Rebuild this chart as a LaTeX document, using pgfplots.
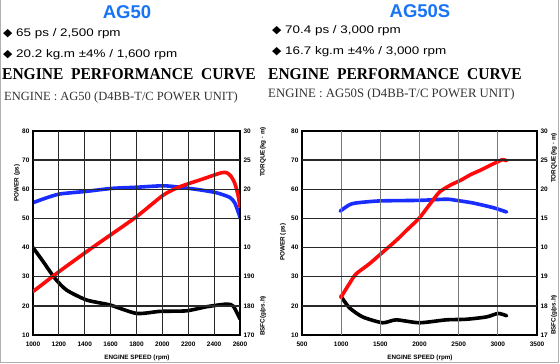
\documentclass[border=0pt]{standalone}
\usepackage{fontspec}
\setmainfont{Liberation Sans}
\newfontfamily\seriffont{Liberation Serif}
\newfontfamily\titlefont[FakeStretch=0.94]{Liberation Serif}
\newfontfamily\widefont[FakeStretch=1.22]{Liberation Sans}
\newfontfamily\symfont[FakeStretch=1.1]{DejaVu Sans}
\usepackage{pgfplots}
\pgfplotsset{compat=1.18}
\definecolor{agblue}{RGB}{25,115,245}
\definecolor{cred}{RGB}{255,10,10}
\definecolor{cblue}{RGB}{25,45,255}
\definecolor{bordergray}{RGB}{175,175,175}
\definecolor{gridk}{RGB}{40,40,40}
\definecolor{gridg}{RGB}{120,120,120}
\pgfplotsset{
  panel/.style={scale only axis, anchor=south west, height=204pt,
    major tick length=0.1pt,
    /pgf/number format/assume math mode=true,
    ticklabel style={font=\fontsize{6.5}{7}\selectfont\bfseries},
    axis line style={line width=1.6pt}},
  curve/.style={line width=3.6pt, line join=round, line cap=round, smooth, tension=0.4, mark=none},
}
\tikzset{lbl/.style={font=\fontsize{6.3}{7}\selectfont\bfseries, inner sep=0pt}}
\begin{document}
\begin{tikzpicture}
\useasboundingbox (0pt,0pt) rectangle (560pt,364pt);
\fill[white] (0pt,0pt) rectangle (560pt,364pt);
\draw[bordergray, line width=1pt] (0.5pt,364pt) -- (0.5pt,1pt) -- (558.5pt,1pt) -- (558.5pt,364pt);

% ---------- headers ----------
\node[anchor=base, inner sep=0pt, text=agblue, font=\fontsize{18.5}{20}\selectfont\bfseries] at (127pt,345.5pt) {AG50};
\node[anchor=base west, inner sep=0pt, font=\widefont\fontsize{11}{13}\selectfont] at (3pt,327pt) {{\symfont ◆} 65 ps / 2,500 rpm};
\node[anchor=base west, inner sep=0pt, font=\widefont\fontsize{11}{13}\selectfont] at (3pt,306pt) {{\symfont ◆} 20.2 kg.m ±4\% / 1,600 rpm};
\node[anchor=base west, inner sep=0pt, font=\titlefont\bfseries\fontsize{16.5}{18}\selectfont] at (2pt,284pt) {ENGINE\ \ PERFORMANCE\ \ CURVE};
\node[anchor=base west, inner sep=0pt, text=black!80, font=\seriffont\fontsize{12.5}{14}\selectfont] at (4pt,263pt) {ENGINE : AG50 (D4BB-T/C POWER UNIT)};

\node[anchor=base, inner sep=0pt, text=agblue, font=\fontsize{18.5}{20}\selectfont\bfseries] at (420pt,346pt) {AG50S};
\node[anchor=base west, inner sep=0pt, font=\widefont\fontsize{11}{13}\selectfont] at (272pt,330.5pt) {{\symfont ◆} 70.4 ps / 3,000 rpm};
\node[anchor=base west, inner sep=0pt, font=\widefont\fontsize{11}{13}\selectfont] at (272pt,309pt) {{\symfont ◆} 16.7 kg.m ±4\% / 3,000 rpm};
\node[anchor=base west, inner sep=0pt, font=\titlefont\bfseries\fontsize{16.5}{18}\selectfont] at (268pt,284pt) {ENGINE\ \ PERFORMANCE\ \ CURVE};
\node[anchor=base west, inner sep=0pt, text=black!80, font=\seriffont\fontsize{12.8}{14}\selectfont] at (268pt,266pt) {ENGINE : AG50S (D4BB-T/C POWER UNIT)};

% ---------- LEFT PANEL: AG50 ----------
\begin{axis}[panel, at={(33pt,29pt)}, width=207pt,
  xmin=1000, xmax=2600, ymin=-5, ymax=30,
  axis x line=none, axis y line*=right,
  ytick={-5,0,5,10,15,20,25,30},
  yticklabels={170,180,190,10,15,20,25,30}]
% torque (kg.m)
\addplot[curve, cblue] coordinates {(1000,17.7)(1100,18.5)(1209,19.2)(1415,19.65)(1608,20.15)(1800,20.35)(2005,20.6)(2136,20.35)(2290,19.9)(2419,19.4)(2522,18.6)(2561,17.6)(2600,15.2)};
\end{axis}
\begin{axis}[panel, at={(33pt,29pt)}, width=207pt,
  xmin=1000, xmax=2600, ymin=170, ymax=240, hide axis]
% BSFC (g/ps.h)
\addplot[curve, black] coordinates {(1000,200)(1080,195.1)(1170,189.4)(1260,185.4)(1415,182.0)(1595,180.3)(1801,177.4)(1981,178.1)(2187,178.3)(2342,179.7)(2497,180.6)(2548,179.9)(2600,175.5)};
\end{axis}
\begin{axis}[panel, at={(33pt,29pt)}, width=207pt,
  xmin=1000, xmax=2600, ymin=10, ymax=80,
  xtick={1000,1200,1400,1600,1800,2000,2200,2400,2600},
  xticklabels={1000,1200,1400,1600,1800,2000,2200,2400,2600},
  ytick={10,20,30,40,50,60,70,80},
  xticklabel style={yshift=-3pt}]
% power (ps)
\addplot[curve, cred] coordinates {(1000,24.9)(1200,31.7)(1427,39.0)(1543,42.6)(1800,50.6)(2007,58.0)(2136,60.9)(2290,63.2)(2458,65.7)(2500,65.6)(2530,64.5)(2560,62)(2585,58)(2600,54)};
\end{axis}
\node[lbl, rotate=90] at (17pt,181pt) {POWER (ps)};
\node[lbl, rotate=90] at (263pt,212pt) {TORQUE(kg · m)};
\node[lbl, rotate=90] at (263pt,48pt) {BSFC(g/ps.h)};
\node[lbl] at (137pt,6pt) {ENGINE SPEED (rpm)};

% ---------- RIGHT PANEL: AG50S ----------
\begin{axis}[panel, at={(302pt,29pt)}, width=235pt,
  xmin=500, xmax=3500, ymin=-5, ymax=30,
  axis x line=none, axis y line*=right,
  ytick={-5,0,5,10,15,20,25,30},
  yticklabels={17,18,19,10,15,20,25,30}]
\addplot[curve, cblue] coordinates {(987,16.25)(1100,17.3)(1188,17.65)(1487,18.0)(2000,18.1)(2342,18.3)(2470,18.1)(2683,17.65)(2940,16.85)(3112,16.1)};
\end{axis}
\begin{axis}[panel, at={(302pt,29pt)}, width=235pt,
  xmin=500, xmax=3500, ymin=170, ymax=240, hide axis]
\addplot[curve, black] coordinates {(996,183.4)(1103,179.4)(1274,176.2)(1530,174.2)(1701,175.2)(2000,174.2)(2342,175.2)(2598,175.4)(2855,176.2)(3004,177.4)(3112,176.6)};
\end{axis}
\begin{axis}[panel, at={(302pt,29pt)}, width=235pt,
  xmin=500, xmax=3500, ymin=10, ymax=80,
  xtick={500,1000,1500,2000,2500,3000,3500},
  xticklabels={500,1000,1500,2000,2500,3000,3500},
  ytick={10,20,30,40,50,60,70,80},
  xticklabel style={yshift=-3pt}]
\addplot[curve, cred] coordinates {(996,22.9)(1100,27.4)(1188,30.9)(1359,34.4)(1530,38.4)(1701,42.4)(1850,46.3)(2000,50.2)(2130,54.8)(2256,59.1)(2400,61.5)(2526,63.1)(2650,65.0)(2782,66.6)(2900,68.2)(2996,69.4)(3060,70.2)(3112,69.8)};
\end{axis}
\node[lbl, rotate=90] at (283pt,122pt) {POWER (ps)};
\node[lbl, rotate=90] at (554pt,206pt) {TORQUE(kg · m)};
\node[lbl, rotate=90] at (554pt,49pt) {BSFC(g/ps.h)};
\node[lbl] at (420pt,6pt) {ENGINE SPEED (rpm)};

% ---------- grid lines (thin filled bars) ----------
\foreach \gx in {58.875,84.75,110.625,136.5,162.375,188.25,214.125}
  \fill[gridk] (\gx pt,29pt) ++(-0.45pt,0pt) rectangle ++(0.9pt,204pt);
\foreach \gx in {341.17,380.33,419.5,458.67,497.83}
  \fill[gridg] (\gx pt,29pt) ++(-0.45pt,0pt) rectangle ++(0.9pt,204pt);
\foreach \gy in {58.14,87.29,116.43,145.57,174.71,203.86} {
  \fill[gridk] (33pt,\gy pt) ++(0pt,-0.75pt) rectangle ++(207pt,1.5pt);
  \fill[gridk] (302pt,\gy pt) ++(0pt,-0.75pt) rectangle ++(235pt,1.5pt);
}
\end{tikzpicture}
\end{document}
